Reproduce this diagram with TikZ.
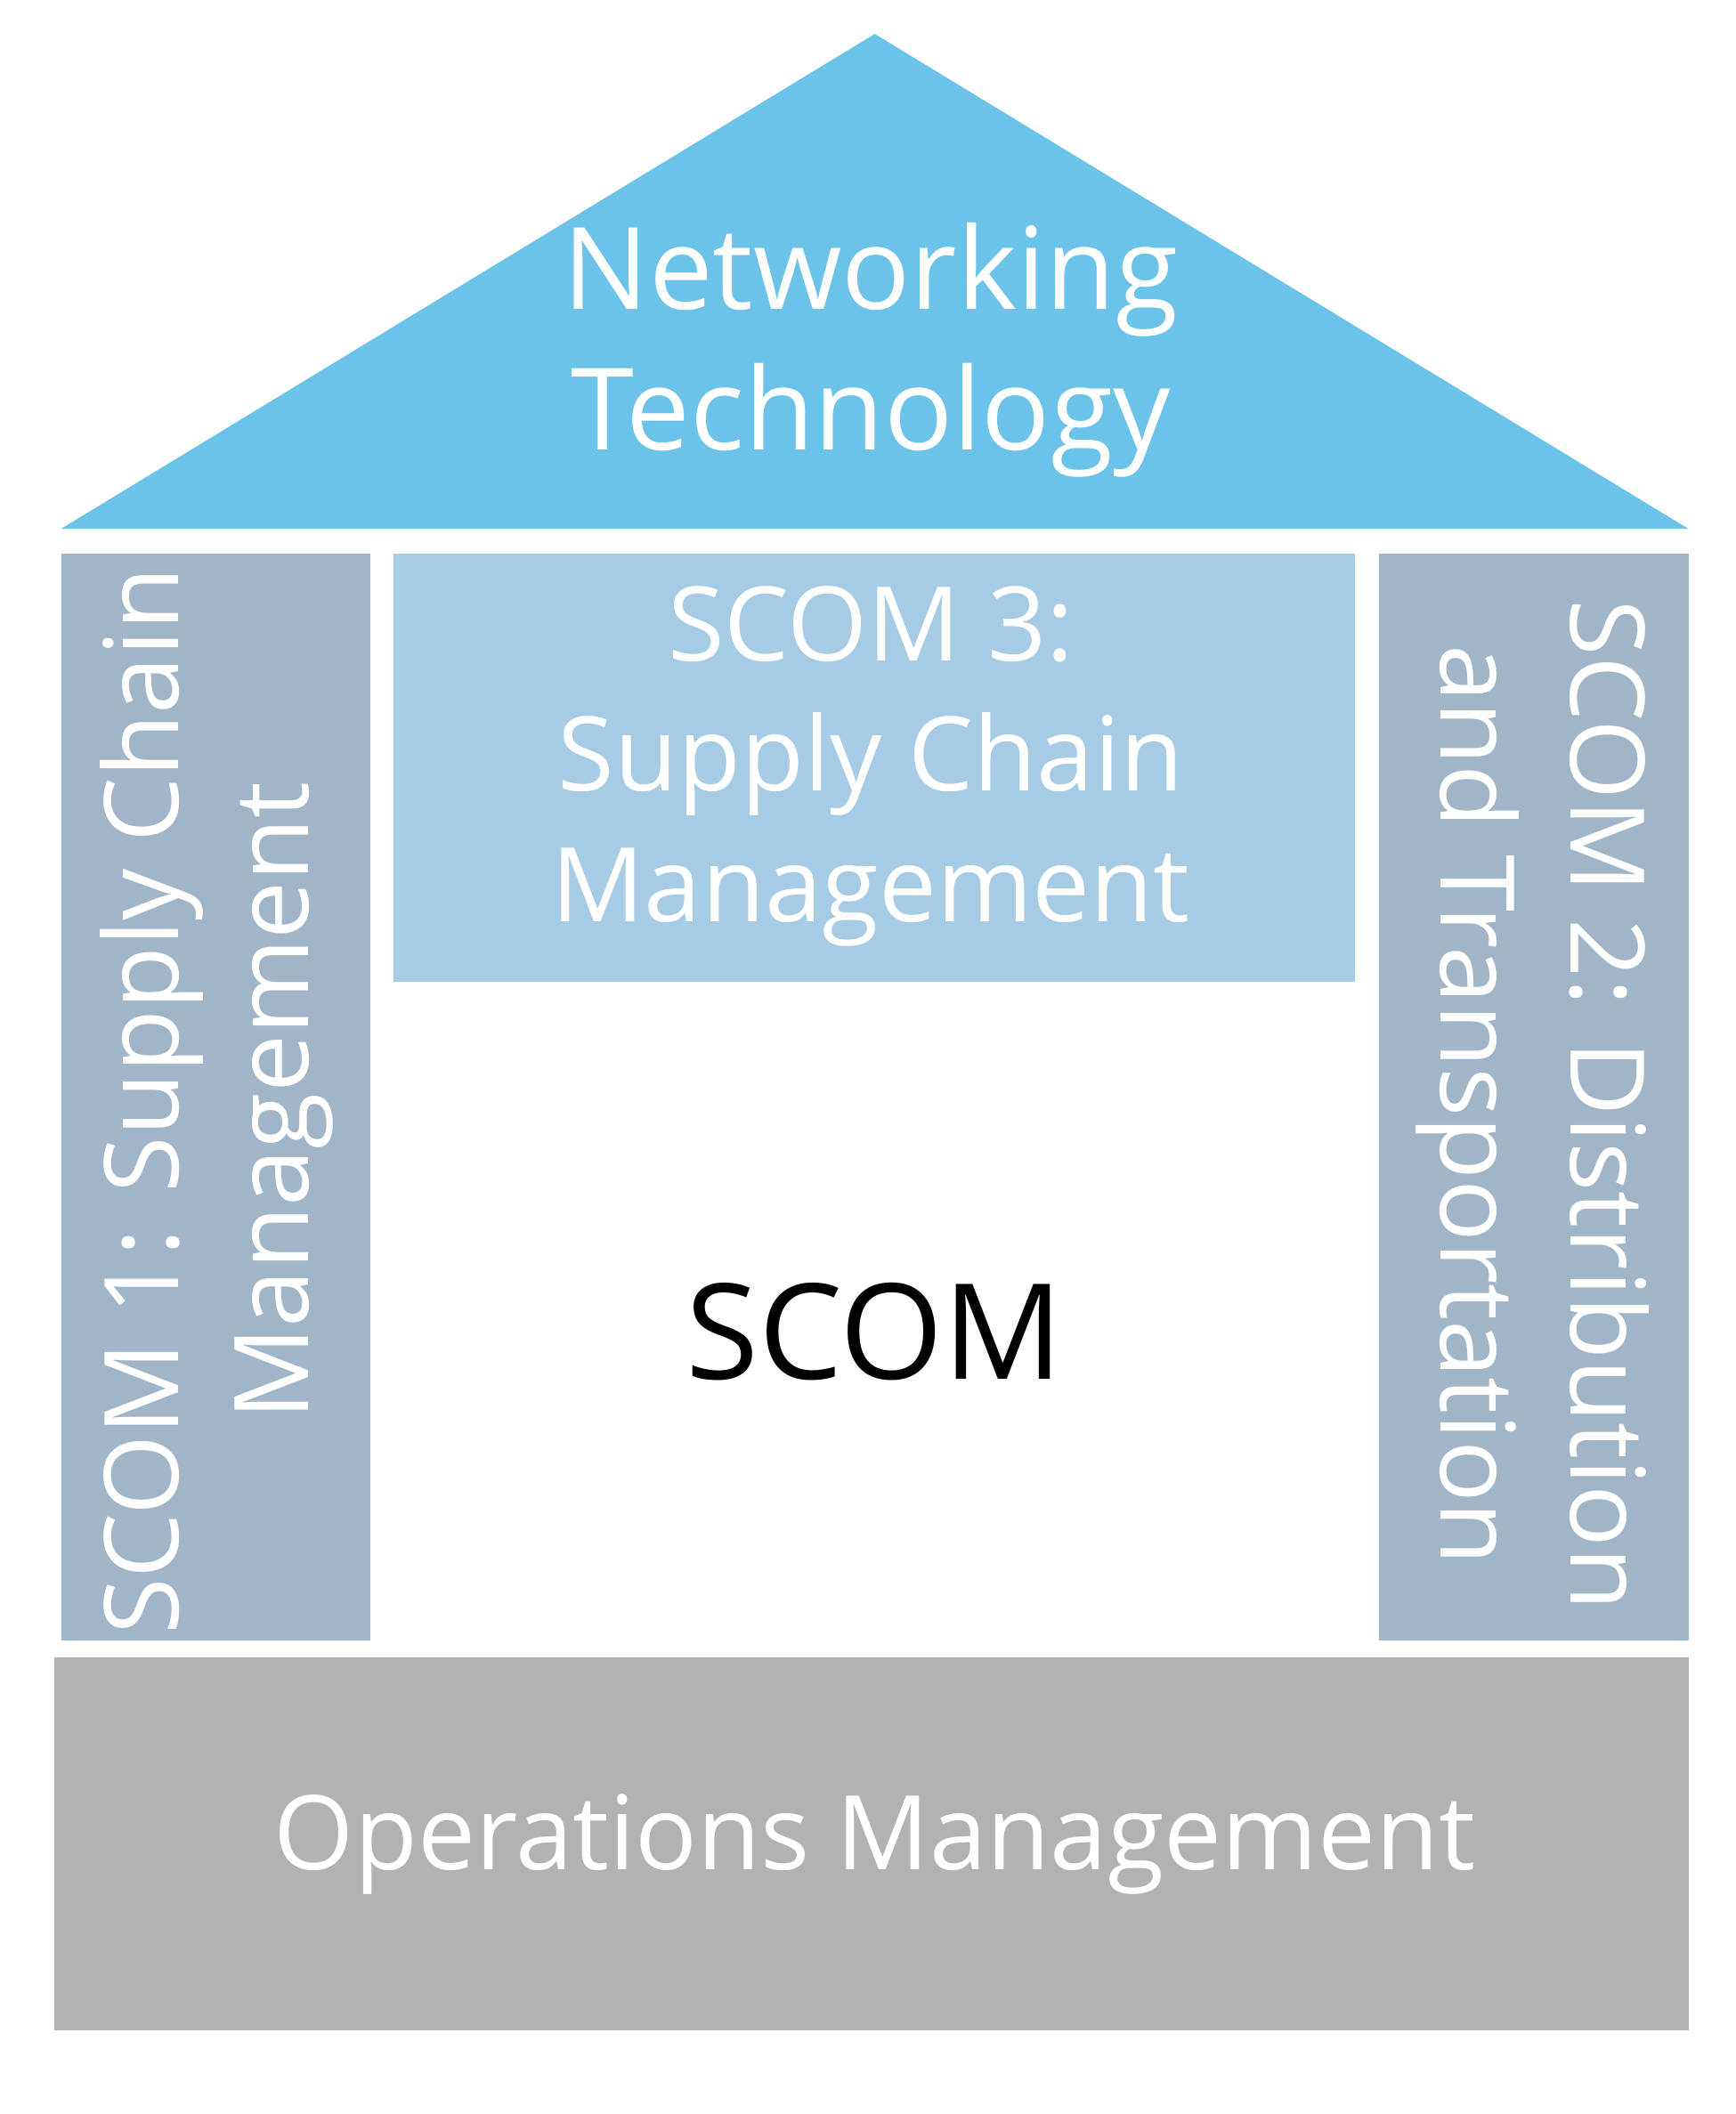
\documentclass[tikz,border=0pt]{standalone}
\usepackage{fontspec}
\setmainfont{Open Sans}
\definecolor{roof}{HTML}{6CC3EA}
\definecolor{pillar}{HTML}{A1B5C8}
\definecolor{mid}{HTML}{A5CBE5}
\definecolor{base}{HTML}{B3B2B3}
\begin{document}
\begin{tikzpicture}[x=0.5pt,y=-0.5pt,
  txt/.style={text=white,align=center,font=\fontsize{38}{48}\selectfont}]
\useasboundingbox[fill=white] (0,0) rectangle (1280,1559);
\fill[roof] (645,25) -- (1245,390) -- (45,390) -- cycle;
\fill[pillar] (45,408) rectangle (273,1210);
\fill[mid] (290,408) rectangle (999,724);
\fill[pillar] (1017,408) rectangle (1245,1210);
\fill[base] (40,1222) rectangle (1245,1497);
\node[txt,font=\fontsize{42}{52}\selectfont] (roofT) at (642,258) {Networking\\Technology};
\node[txt] (midT) at (642,565) {SCOM 3:\\Supply Chain\\Management};
\node[txt,rotate=90] (leftT) at (160,812) {SCOM 1: Supply Chain\\Management};
\node[txt,rotate=-90] (rightT) at (1130,815) {SCOM 2: Distribution\\and Transportation};
\node[txt] (baseT) at (645,1360) {Operations Management};
\node[font=\fontsize{49}{58}\selectfont] (scom) at (645,982) {SCOM};
\end{tikzpicture}
\end{document}
